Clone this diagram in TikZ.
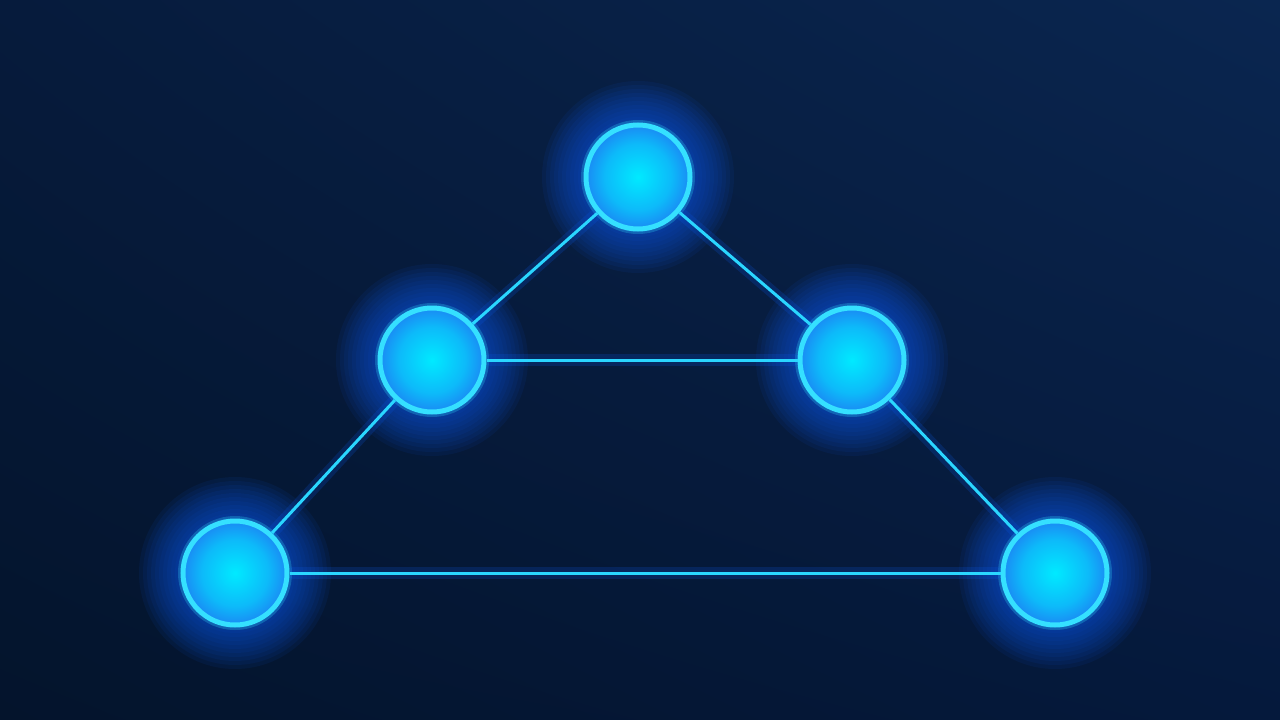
\documentclass[tikz,border=0pt]{standalone}
\usetikzlibrary{fadings,shadings}
\definecolor{bgTL}{HTML}{061B3C}
\definecolor{bgTR}{HTML}{0A2650}
\definecolor{bgBL}{HTML}{04142C}
\definecolor{bgBR}{HTML}{05193C}
\definecolor{glowblue}{HTML}{0A58E8}
\definecolor{ringcyan}{HTML}{35E0FF}
\definecolor{linecyan}{HTML}{2AD6FF}
\definecolor{ballin}{HTML}{00EAFF}
\definecolor{ballout}{HTML}{1A8AF4}
\pgfdeclareradialshading{ballshade}{\pgfpoint{0bp}{0bp}}{color(0bp)=(ballin); color(16bp)=(ballout!50!ballin); color(25bp)=(ballout); color(50bp)=(ballout)}
\tikzset{
  ballnode/.style={circle, minimum size=104pt, inner sep=0pt, draw=ringcyan, line width=5pt, shading=ballshade},
  ringglow/.style={draw=ringcyan, line width=10pt, opacity=0.25},
  edgeglow/.style={draw=glowblue, line width=12pt, opacity=0.2},
  edgecore/.style={draw=linecyan, line width=3pt},
  halo/.style={fill=glowblue, opacity=0.08}
}
\begin{document}
\begin{tikzpicture}[x=1pt,y=-1pt]
\useasboundingbox (0,0) rectangle (1280,720);
\shade[upper left=bgTL, upper right=bgTR, lower left=bgBL, lower right=bgBR] (0,0) rectangle (1280,720);
\coordinate (pt) at (638,177);
\coordinate (pml) at (432,360);
\coordinate (pmr) at (852,360);
\coordinate (pbl) at (235,573);
\coordinate (pbr) at (1055,573);
\foreach \c in {pt,pml,pmr,pbl,pbr}{
  \foreach \r in {56,60,...,98}{
    \fill[halo] (\c) circle (\r);
  }
  \draw[ringglow] (\c) circle (52);
}
\node[ballnode] (t) at (pt) {};
\node[ballnode] (ml) at (pml) {};
\node[ballnode] (mr) at (pmr) {};
\node[ballnode] (bl) at (pbl) {};
\node[ballnode] (br) at (pbr) {};
\foreach \a/\b in {t/ml,t/mr,ml/mr,ml/bl,mr/br,bl/br}{
  \draw[edgeglow] (\a) -- (\b);
  \draw[edgecore] (\a) -- (\b);
}
\end{tikzpicture}
\end{document}
